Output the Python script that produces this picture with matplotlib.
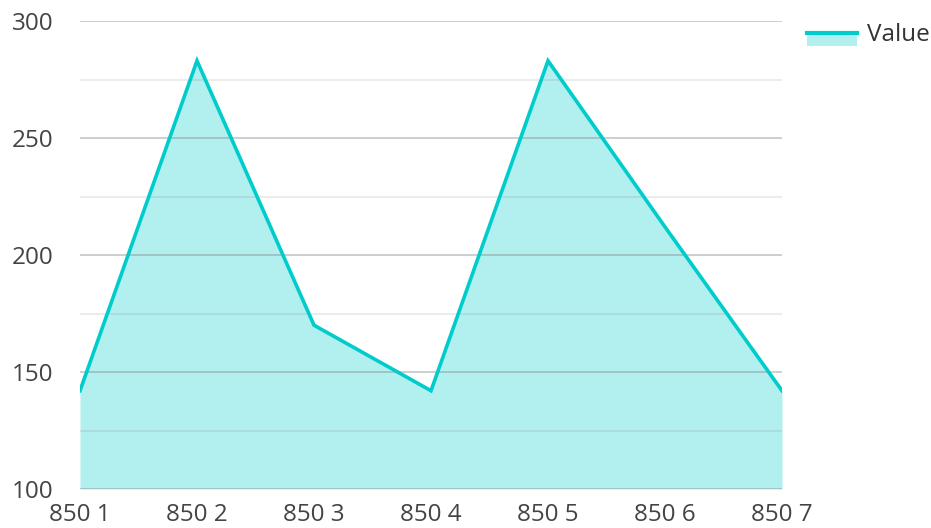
import matplotlib
matplotlib.use("Agg")
import matplotlib.pyplot as plt
from matplotlib.legend_handler import HandlerBase
from matplotlib.lines import Line2D
from matplotlib.patches import Rectangle

plt.rcParams['font.family'] = ['Open Sans', 'DejaVu Sans']

# data
categories = ["850 1", "850 2", "850 3", "850 4", "850 5", "850 6", "850 7"]
values = [142, 283, 170, 142, 283, 212, 142]
series_name = "Value"

line_color = "#00cccc"
fill_color = "#b2efef"
text_color = "#444444"


class AreaHandler(HandlerBase):
    # filled box with the series line along its top edge, sitting a bit low
    def create_artists(self, legend, orig_handle, xdescent, ydescent,
                       width, height, fontsize, trans):
        shift = 4.5
        y0 = -ydescent - shift
        box = Rectangle((-xdescent, y0), width, height - 1.5,
                        facecolor=fill_color, edgecolor="none", transform=trans)
        ln = Line2D([-xdescent, -xdescent + width], [y0 + height - 1.5] * 2,
                    color=line_color, linewidth=3, transform=trans)
        return [box, ln]


fig = plt.figure(figsize=(9.31, 5.28), dpi=100)
ax = fig.add_axes([80 / 931, 1 - 489 / 528, (782 - 80) / 931, (489 - 21) / 528])

x = list(range(len(categories)))
ax.fill_between(x, values, 100, color=fill_color, linewidth=0, zorder=1)
ax.plot(x, values, color=line_color, linewidth=2.6, solid_joinstyle="miter", zorder=3)

ax.set_xlim(0, len(categories) - 1)
ax.set_ylim(100, 300)

# gridlines sit above the fill, semi-transparent
for y in range(100, 301, 50):
    ax.axhline(y, color="#808080", alpha=0.45, linewidth=1.2, zorder=2)
for y in range(125, 300, 50):
    ax.axhline(y, color="#808080", alpha=0.18, linewidth=1.2, zorder=2)

ax.set_yticks(range(100, 301, 50))
ax.set_xticks(x)
ax.set_xticklabels(categories)
ax.tick_params(axis="both", length=0, labelsize=17.5, labelcolor=text_color)
ax.tick_params(axis="y", pad=19)
ax.tick_params(axis="x", pad=10)

for s in ax.spines.values():
    s.set_visible(False)

proxy = Rectangle((0, 0), 1, 1)
fig.legend([proxy], [series_name], handler_map={Rectangle: AreaHandler()},
           loc="upper left", bbox_to_anchor=(807 / 931, 1 - 23 / 528),
           frameon=False, fontsize=17.5, labelcolor="#333333",
           handlelength=2.05, handleheight=0.6, handletextpad=0.4,
           borderaxespad=0, borderpad=0)

fig.savefig("out.png", dpi=100)
